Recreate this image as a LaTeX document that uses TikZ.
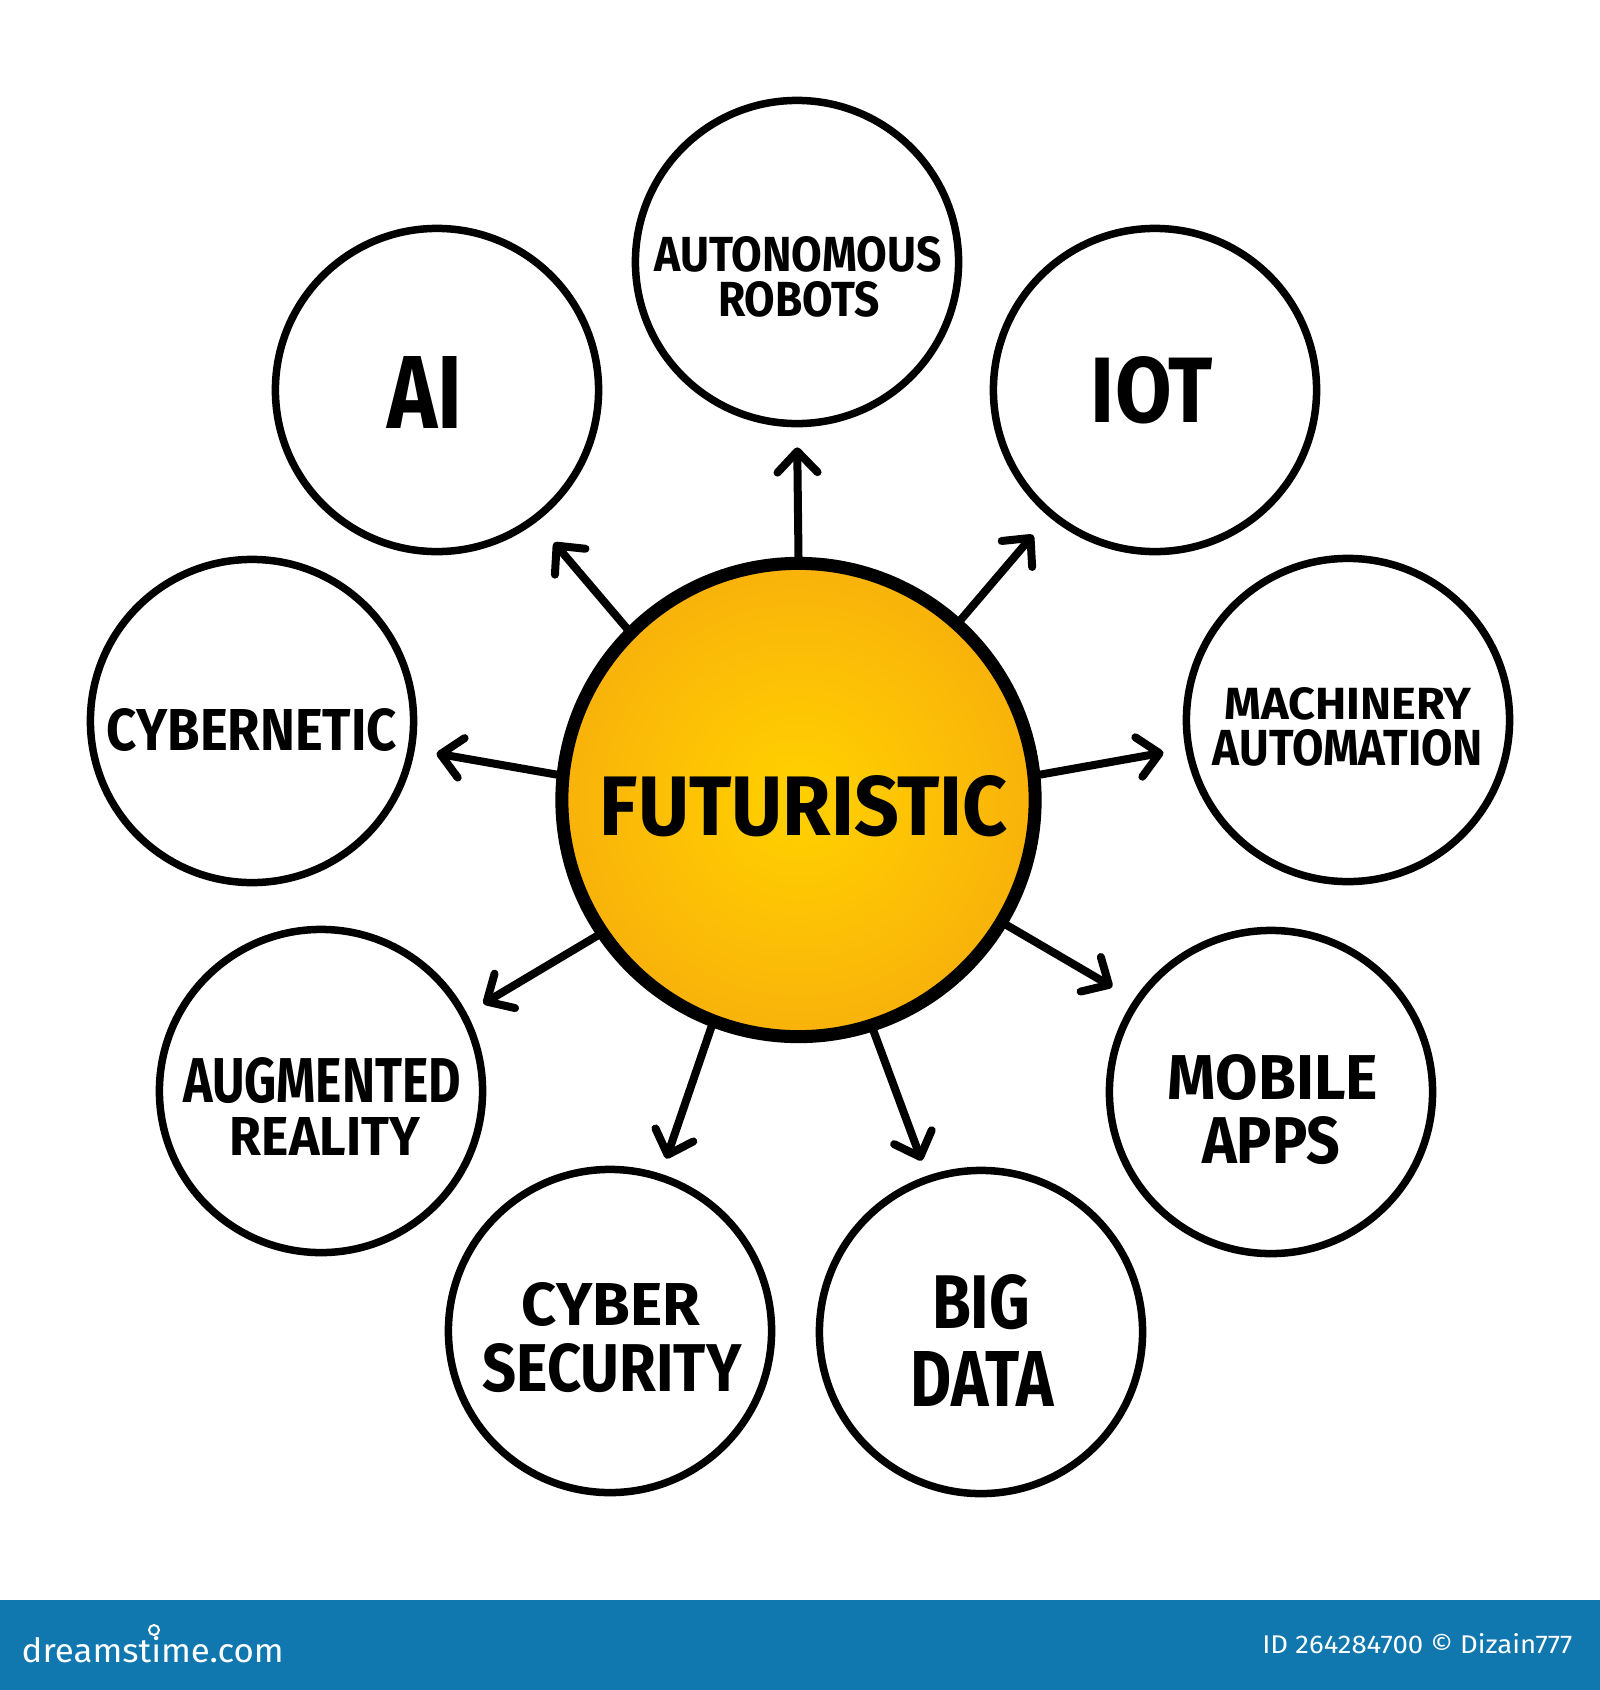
\documentclass[tikz,border=0pt]{standalone}
\usepackage{fontspec}
\usepackage{graphicx}
\usetikzlibrary{arrows.meta,calc}
\newfontfamily\hand{Fira Sans}
\newfontfamily\barfont{Fira Sans}
\newlength\pxu
\setlength\pxu{0.01cm}
\newcommand\hw[3]{\resizebox{#1\pxu}{#2\pxu}{\hand\bfseries #3}}
\definecolor{sunin}{RGB}{255,206,0}
\definecolor{sunout}{RGB}{243,150,22}
\definecolor{barblue}{RGB}{16,119,175}
\pgfdeclareradialshading{sunshade}{\pgfpoint{0bp}{0bp}}{color(0bp)=(sunin); color(3bp)=(sunin); color(47bp)=(sunout); color(100bp)=(sunout)}
\begin{document}
\begin{tikzpicture}[x=0.01cm,y=-0.01cm,
  sat/.style={circle,draw=black,line width=0.075cm,minimum size=3.23cm,inner sep=0pt,fill=white},
  sun/.style={circle,draw=black,line width=0.13cm,minimum size=4.73cm,inner sep=0pt,shade,shading=sunshade},
  lbl/.style={inner sep=0pt,anchor=center},
  arr/.style={line width=0.08cm,line cap=round,-{Straight Barb[length=0.21cm,width=0.4cm,round]}}]
\useasboundingbox (0,0) rectangle (1600,1690);
\fill[white] (0,0) rectangle (1600,1690);

% central circle
\node[sun] (c) at (798.5,800) {};

% satellites
\node[sat] (ar)   at (797,262) {};
\node[sat] (ai)   at (437,390) {};
\node[sat] (iot)  at (1155,390) {};
\node[sat] (cyb)  at (252,721) {};
\node[sat] (mach) at (1348,720) {};
\node[sat] (aug)  at (321,1091) {};
\node[sat] (mob)  at (1271,1092) {};
\node[sat] (cs)   at (610,1331) {};
\node[sat] (bd)   at (981,1332) {};

% labels
\node[lbl] (fut)  at (804,806) {\hw{408}{60}{FUTURISTIC}};
\node[lbl] (ar1)  at (798,254) {\hw{287}{35}{AUTONOMOUS}};
\node[lbl] (ar2)  at (799,299) {\hw{162}{35}{ROBOTS}};
\node[lbl] (ait)  at (425,392) {\hw{75}{72}{AI}};
\node[lbl] (iott) at (1152,390) {\hw{122}{66}{IOT}};
\node[lbl] (cybt) at (252,730) {\hw{290}{42}{CYBERNETIC}};
\node[lbl] (ma1)  at (1348,704) {\hw{247}{32}{MACHINERY}};
\node[lbl] (ma2)  at (1348,748) {\hw{270}{36}{AUTOMATION}};
\node[lbl] (au1)  at (322,1081) {\hw{278}{45}{AUGMENTED}};
\node[lbl] (au2)  at (325,1136) {\hw{190}{38}{REALITY}};
\node[lbl] (mo1)  at (1273,1078) {\hw{210}{45}{MOBILE}};
\node[lbl] (mo2)  at (1271,1141) {\hw{138}{47}{APPS}};
\node[lbl] (cs1)  at (611,1304) {\hw{178}{43}{CYBER}};
\node[lbl] (cs2)  at (612,1368) {\hw{259}{48}{SECURITY}};
\node[lbl] (bd1)  at (981,1302) {\hw{98}{54}{BIG}};
\node[lbl] (bd2)  at (982,1379) {\hw{143}{55}{DATA}};

% arrows
\draw[arr, shorten >=0.20cm] (c.90)    -- (ar.270);
\draw[arr, shorten >=0.27cm] (c.135.7) -- (ai.307.8);
\draw[arr, shorten >=0.24cm] (c.48.1)  -- (iot.230.6);
\draw[arr, shorten >=0.22cm] (c.174.8) -- (cyb.350.8);
\draw[arr, shorten >=0.22cm] (c.6.8)   -- (mach.190.8);
\draw[arr, shorten >=0.19cm] (c.214.1) -- (aug.28.5);
\draw[arr, shorten >=0.25cm] (c.329.8) -- (mob.146.4);
\draw[arr, shorten >=0.16cm] (c.249.3) -- (cs.72.3);
\draw[arr, shorten >=0.16cm] (c.288.6) -- (bd.109);

% bottom bar
\fill[barblue] (0,1600) rectangle (1600,1690);
\node[lbl, anchor=west, text=white] (logo) at (21,1650) {\resizebox{262\pxu}{26\pxu}{\barfont dreamstime.com}};
\draw[white, line width=0.02cm] (154,1630) circle[radius=5];
\node[lbl, anchor=east, text=white] (idt) at (1573,1644) {\resizebox{310\pxu}{20\pxu}{\barfont ID 264284700 © Dizain777}};
\end{tikzpicture}
\end{document}
